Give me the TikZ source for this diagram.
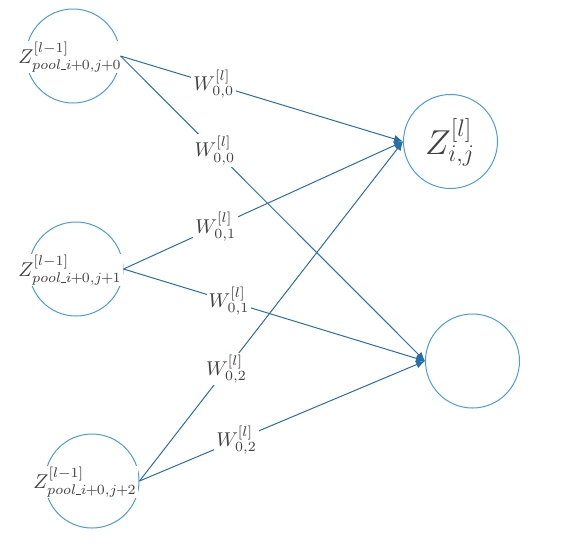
\documentclass[tikz,border=0pt]{standalone}
\usetikzlibrary{arrows.meta}
\definecolor{circblue}{RGB}{74,156,222}
\definecolor{lineblue}{RGB}{40,110,168}
\newcommand{\usc}{\rule[-0.35pt]{2.3pt}{0.35pt}}
\begin{document}
\begin{tikzpicture}[x=0.5pt,y=-0.5pt,
  neuron/.style={circle,draw=circblue,line width=0.5pt,minimum size=47pt,inner sep=0pt},
  ztext/.style={fill=white,inner sep=0.8pt,text=black!75,font=\fontsize{9.8}{11}\selectfont},
  wlabel/.style={fill=white,inner sep=1pt,text=black!75,pos=0.33,font=\fontsize{10}{12}\selectfont},
  conn/.style={draw=lineblue,line width=0.5pt,-{Latex[length=4.5pt,width=4pt]}}]
\useasboundingbox (0,0) rectangle (577,542);
\node[neuron] (in1) at (73,56) {};
\node[neuron] (in2) at (76,269) {};
\node[neuron] (in3) at (92,481) {};
\node[neuron] (out1) at (450.5,141.5) {};
\node[neuron] (out2) at (472.5,361) {};
\node[ztext] (t1) at (70,57) {$Z^{[l-1]}_{pool\usc i\mkern-1mu+\mkern-1mu0,j\mkern-1mu+\mkern-1mu0}$};
\node[ztext] (t2) at (70,270) {$Z^{[l-1]}_{pool\usc i\mkern-1mu+\mkern-1mu0,j\mkern-1mu+\mkern-1mu1}$};
\node[ztext] (t3) at (85,482) {$Z^{[l-1]}_{pool\usc i\mkern-1mu+\mkern-1mu0,j\mkern-1mu+\mkern-1mu2}$};
\node[ztext,font=\fontsize{16.5}{19}\selectfont] (t4) at (450,142) {$Z^{[l]}_{i,j}$};
\draw[conn] (in1.east) -- node[wlabel] (w1) {$W^{[l]}_{0,0}$} (out1.west);
\draw[conn] (in1.east) -- node[wlabel,pos=0.31] (w2) {$W^{[l]}_{0,0}$} (out2.west);
\draw[conn] (in2.east) -- node[wlabel] (w3) {$W^{[l]}_{0,1}$} (out1.west);
\draw[conn] (in2.east) -- node[wlabel,pos=0.35] (w4) {$W^{[l]}_{0,1}$} (out2.west);
\draw[conn] (in3.east) -- node[wlabel,pos=0.33] (w5) {$W^{[l]}_{0,2}$} (out1.west);
\draw[conn] (in3.east) -- node[wlabel,pos=0.34] (w6) {$W^{[l]}_{0,2}$} (out2.west);
\end{tikzpicture}
\end{document}
